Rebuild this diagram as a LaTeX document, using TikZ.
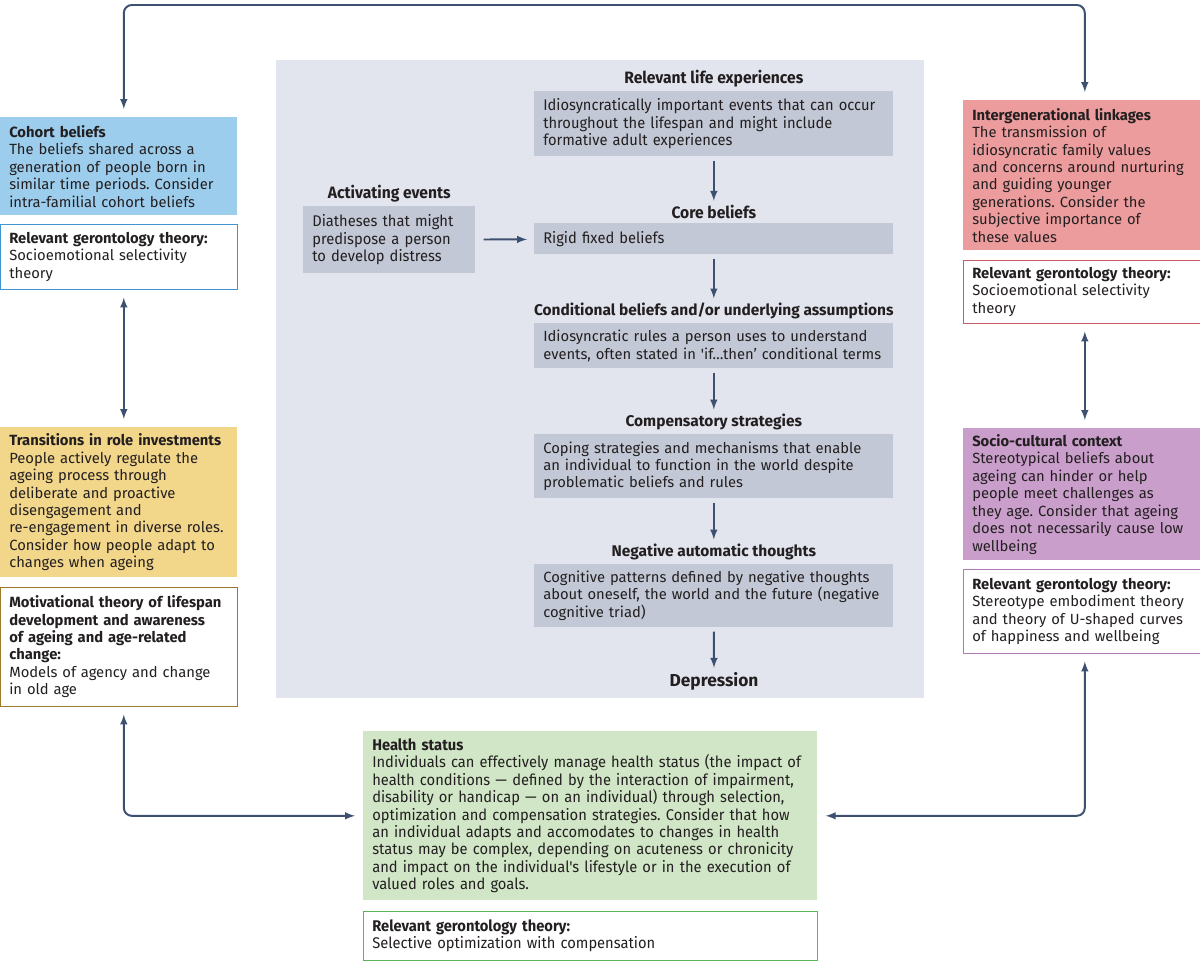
\documentclass[tikz,border=0pt]{standalone}
\usepackage{fontspec}
\setmainfont{Fira Sans}
\newfontfamily\narrowfont[FakeStretch=0.95]{Fira Sans}
\usetikzlibrary{positioning}
\frenchspacing

\definecolor{linkcol}{HTML}{3D5070}
\definecolor{inkcol}{HTML}{231F20}
\definecolor{panelcol}{HTML}{E2E5EE}
\definecolor{stagecol}{HTML}{C2C8D5}
\definecolor{cohortcol}{HTML}{9DCDEC}
\definecolor{cohortline}{HTML}{3F95D0}
\definecolor{transcol}{HTML}{F2D68A}
\definecolor{transline}{HTML}{9C7A2A}
\definecolor{intercol}{HTML}{EC9C9D}
\definecolor{interline}{HTML}{C85A64}
\definecolor{sociocol}{HTML}{C99ECB}
\definecolor{socioline}{HTML}{B27AB5}
\definecolor{healthcol}{HTML}{D0E6C6}
\definecolor{healthline}{HTML}{5BB55A}

\tikzset{
  txt/.style={font=\fontsize{10.5}{12.4}\selectfont, text=inkcol},
  narrowtxt/.style={font=\narrowfont\fontsize{11}{12.4}\selectfont, text=inkcol},
  sidebox/.style={txt, anchor=north west, align=left, inner xsep=0.225cm, inner ysep=0pt,
    text width=5.475cm},
  stagebox/.style={anchor=north west, align=left, fill=stagecol, inner xsep=0.225cm, inner ysep=0pt,
    text width=8.525cm},
  stagehead/.style={text=inkcol, font=\bfseries\fontsize{11}{12.4}\selectfont, inner sep=0pt},
  narrowhead/.style={text=inkcol, font=\narrowfont\bfseries\fontsize{11.7}{12.4}\selectfont, inner sep=0pt},
  link/.style={draw=linkcol, line width=1.4pt, latex-latex, rounded corners=0.2cm,
    shorten <=0.2cm, shorten >=0.2cm},
  flow/.style={draw=linkcol, line width=1.4pt, -latex, shorten <=0.1cm, shorten >=0.1cm}
}

\begin{document}
\begin{tikzpicture}[x=0.025cm,y=-0.025cm]
\useasboundingbox (0,0) rectangle (1200,961);

% central panel
\fill [panelcol] (276,60) rectangle (924,698);

\node [stagebox, narrowtxt, minimum height=1.625cm] (life) at (534,91)
  {Idiosyncratically important events that can occur\\throughout the lifespan and might include\\formative adult experiences};
\node [narrowhead, above=0.1cm of life] (lifehead) {Relevant life experiences};

\node [stagebox, narrowtxt, minimum height=0.775cm] (core) at (534,223) {Rigid fixed beliefs};
\node [narrowhead, above=0.1cm of core] (corehead) {Core beliefs};

\node [stagebox, narrowtxt, text width=3.85cm, minimum height=1.675cm] (activ) at (303,206)
  {Diatheses that might\\predispose a person\\to develop distress};
\node [narrowhead, above=0.1cm of activ] (activhead) {Activating events};

\node [stagebox, txt, minimum height=1.125cm] (cond) at (534,323)
  {Idiosyncratic rules a person uses to understand\\events, often stated in \textquotesingle if…then’ conditional terms};
\node [stagehead, above=0.1cm of cond] (condhead) {Conditional beliefs and/or underlying assumptions};

\node [stagebox, txt, minimum height=1.6cm] (comp) at (534,434)
  {Coping strategies and mechanisms that enable\\an individual to function in the world despite\\problematic beliefs and rules};
\node [stagehead, above=0.1cm of comp] (comphead) {Compensatory strategies};

\node [stagebox, txt, minimum height=1.575cm] (neg) at (534,564)
  {Cognitive patterns defined by negative thoughts\\about oneself, the world and the future (negative\\cognitive triad)};
\node [stagehead, above=0.1cm of neg] (neghead) {Negative automatic thoughts};

\node [stagehead, font=\bfseries\fontsize{12.3}{13}\selectfont] (depr) at (714,681) {Depression};

\draw [flow] (life) -- (corehead);
\draw [flow] (core) -- (condhead);
\draw [flow] (cond) -- (comphead);
\draw [flow] (comp) -- (neghead);
\draw [flow] (neg) -- (depr);
\draw [flow, shorten <=0.2cm, shorten >=0.175cm] (activ) -- (core);

% left column
\node [sidebox, fill=cohortcol, minimum height=2.45cm] (cohort) at (0,117)
  {\textbf{Cohort beliefs}\\The beliefs shared across a\\generation of people born in\\similar time periods. Consider\\intra-familial cohort beliefs};
\node [sidebox, draw=cohortline, fill=white, minimum height=1.625cm] (cohortth) at (0,224)
  {\textbf{Relevant gerontology theory:}\\Socioemotional selectivity\\theory};
\node [sidebox, fill=transcol, minimum height=3.75cm] (trans) at (0,427)
  {\textbf{Transitions in role investments}\\People actively regulate the\\ageing process through\\deliberate and proactive\\disengagement and\\re-engagement in diverse roles.\\Consider how people adapt to\\changes when ageing};
\node [sidebox, draw=transline, fill=white, minimum height=2.975cm] (motiv) at (0,587)
  {\textbf{Motivational theory of lifespan}\\\textbf{development and awareness}\\\textbf{of ageing and age-related}\\\textbf{change:}\\Models of agency and change\\in old age};

% right column
\node [sidebox, fill=intercol, minimum height=3.75cm] (inter) at (963,100)
  {\textbf{Intergenerational linkages}\\The transmission of\\idiosyncratic family values\\and concerns around nurturing\\and guiding younger\\generations. Consider the\\subjective importance of\\these values};
\node [sidebox, draw=interline, fill=white, minimum height=1.575cm] (interth) at (963,260)
  {\textbf{Relevant gerontology theory:}\\Socioemotional selectivity\\theory};
\node [sidebox, fill=sociocol, minimum height=3.3cm] (socio) at (963,428)
  {\textbf{Socio-cultural context}\\Stereotypical beliefs about\\ageing can hinder or help\\people meet challenges as\\they age. Consider that ageing\\does not necessarily cause low\\wellbeing};
\node [sidebox, draw=socioline, fill=white, minimum height=2.1cm] (socioth) at (963,569)
  {\textbf{Relevant gerontology theory:}\\Stereotype embodiment theory\\and theory of U-shaped curves\\of happiness and wellbeing};

% bottom
\node [sidebox, narrowtxt, text width=10.9cm, fill=healthcol, minimum height=4.225cm] (health) at (363,731)
  {\textbf{Health status}\\Individuals can effectively manage health status (the impact of\\health conditions — defined by the interaction of impairment,\\disability or handicap — on an individual) through selection,\\optimization and compensation strategies. Consider that how\\an individual adapts and accomodates to changes in health\\status may be complex, depending on acuteness or chronicity\\and impact on the individual's lifestyle or in the execution of\\valued roles and goals.};
\node [sidebox, narrowtxt, text width=10.9cm, draw=healthline, fill=white, minimum height=1.225cm] (healthth) at (363,911)
  {\textbf{Relevant gerontology theory:}\\Selective optimization with compensation};

% connectors between the outer boxes
\coordinate (topline) at (600,5);
\draw [link] ([xshift=0.125cm]cohort.north) |- (topline) -| ([xshift=0.075cm]inter.north);
\draw [link] ([xshift=0.125cm]cohortth.south) -- ([xshift=0.125cm]trans.north);
\draw [link] ([xshift=0.075cm]interth.south) -- ([xshift=0.075cm]socio.north);
\draw [link] ([xshift=0.125cm]motiv.south) |- (health.west);
\draw [link] ([xshift=0.075cm]socioth.south) |- (health.east);
\end{tikzpicture}
\end{document}
